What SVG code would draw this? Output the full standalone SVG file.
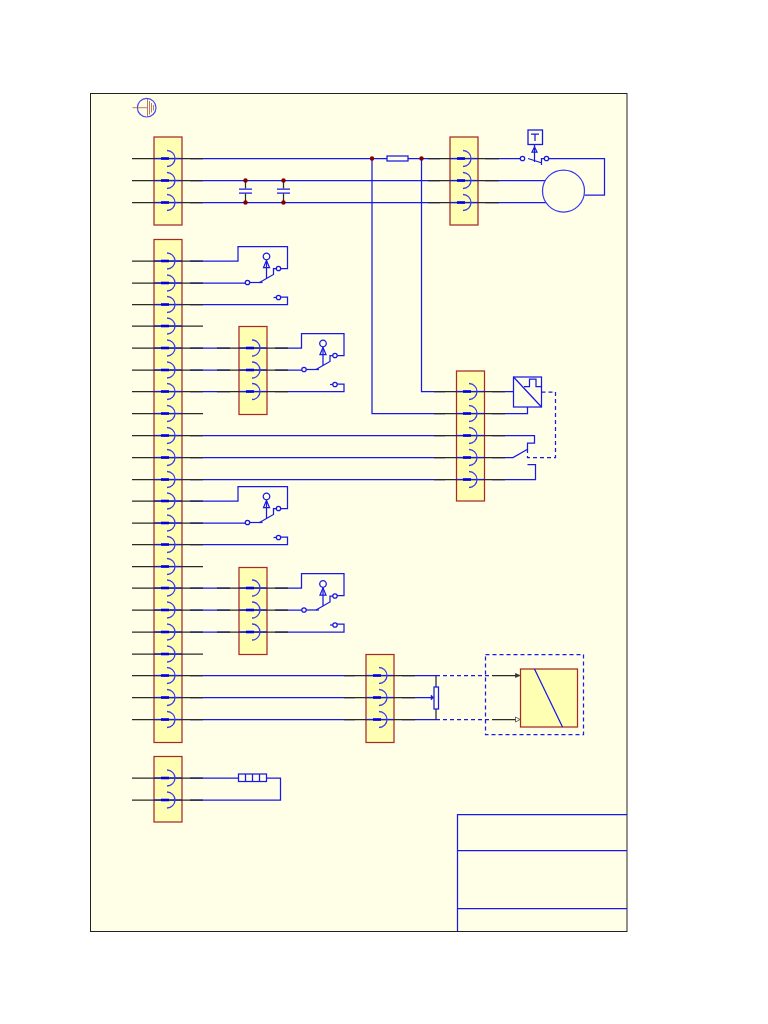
<svg xmlns="http://www.w3.org/2000/svg" width="768" height="1024" viewBox="0 0 768 1024">
<style>
.b{fill:none;stroke:#1818e8;stroke-width:1.25}
.d{fill:none;stroke:#2a2a2a;stroke-width:1.25}
.dash{fill:none;stroke:#1818e8;stroke-width:1.25;stroke-dasharray:4 3}
.blk{fill:#ffffb4;stroke:#a52a2a;stroke-width:1.25}
.dot{fill:#800000;stroke:none}
.w{fill:#ffffe8;stroke:#1818e8;stroke-width:1.25}
</style>
<defs>
<g id="t">
<path class="d" d="M-36 0H35"/>
<path class="b" d="M-14 0H14"/>
<path d="M-7 0H1" fill="none" stroke="#0000e6" stroke-width="2.6"/>
<path d="M-1 -8A8 8 0 0 1 -1 8" fill="none" stroke="#3a3af0" stroke-width="1.3"/>
</g>
<g id="sw">
<path class="b" d="M-19 26H-4"/>
<circle class="w" cx="-19" cy="26" r="2.2"/>
<path class="b" d="M-7 26L7 18V12H12M0 22V4"/>
<path class="b" d="M0 4L-3 11H3Z"/>
<circle class="w" cx="0" cy="0" r="3.3"/>
<circle class="w" cx="12" cy="12" r="2.2"/>
<path class="b" d="M7 41H12"/>
<circle class="w" cx="12" cy="41" r="2.2"/>
</g>
</defs>
<rect id="frame" x="90.5" y="93.5" width="536.5" height="838" fill="#ffffe8" stroke="#222" stroke-width="1"/>
<g id="title-block">
<path class="b" d="M457.5 931V814.5H627M457.5 850.5H627M457.5 908.5H627"/>
</g>
<g id="ground">
<circle cx="146.7" cy="107.7" r="9.3" fill="none" stroke="#4a4af0" stroke-width="1.2"/>
<path d="M132.5 107.7H147M147.5 99V116.5M149.5 101V114.5M151.5 103V112.5M153.5 105V110.5" fill="none" stroke="#a8584a" stroke-width="0.8"/>
</g>
<g id="connectors">
<path class="b" d="M190 158.5H387M408 158.5H440M190 180.5H440M190 202.5H440"/>
<path class="b" d="M372 158.5V413.5H445M421.5 158.5V391.5H445"/>
<path class="d" d="M245.5 180.5V188.5M245.5 193.5V202.5M283.5 180.5V188.5M283.5 193.5V202.5"/>
<path class="b" d="M485 158.5H520M485 180.5H546M485 202.5H547"/>
<path class="b" d="M548.5 158.5H604.5V195H584.5"/>
<path class="b" d="M190 261H238V246.5H287.5V268.5H280.5M190 283H245M190 304.5H287.5V297H280.5"/>
<path class="b" d="M190 348H230M190 370H230M190 391.5H230M275 348H301.5V333.5H344V355.5H337M275 370H302M275 391.5H344V384H337"/>
<path class="b" d="M190 501H238V486.5H287.5V508.5H280.5M190 523H245M190 544.5H287.5V537H280.5"/>
<path class="b" d="M190 588H230M190 610H230M190 632H230M275 588H301.5V573.5H344V595.5H337M275 610H302M275 632H344V624H337"/>
<path class="b" d="M190 435.5H445M190 457.5H445M190 479.5H445"/>
<path class="b" d="M492 391.5H513.5M492 413.5H527.5V407M492 435.5H534.5V443H527.5V451M492 457.5H513L528 449M492 479.5H535.5V464.5H527.5"/>
<path class="dash" d="M541.5 392H555.5V457.5H527.5V451"/>
<path class="b" d="M190 675.5H355M190 697.5H355M190 719.5H355"/>
<path class="b" d="M402 675.5H436M402 719.5H436M402 697.5H431"/>
<path class="d" d="M436 675.5V687M436 709V719.5"/>
<path class="dash" d="M436 675.5H492M436 719.5H492"/>
<path class="d" d="M492 675.5H517M492 719.5H517"/>
<path class="b" d="M190 778H238M266.5 778H280.5V800H190"/>
</g>
<g id="X1">
<rect class="blk" x="154" y="137" width="28" height="88"/>
<use href="#t" x="168" y="158.5"/><use href="#t" x="168" y="180.5"/><use href="#t" x="168" y="202.5"/>
</g>
<g id="X2">
<rect class="blk" x="154" y="239.5" width="28" height="503"/>
<use href="#t" x="168" y="261"/><use href="#t" x="168" y="283"/><use href="#t" x="168" y="304.5"/><use href="#t" x="168" y="326"/><use href="#t" x="168" y="348"/><use href="#t" x="168" y="370"/><use href="#t" x="168" y="391.5"/><use href="#t" x="168" y="413.5"/><use href="#t" x="168" y="435.5"/><use href="#t" x="168" y="457.5"/><use href="#t" x="168" y="479.5"/><use href="#t" x="168" y="501"/><use href="#t" x="168" y="523"/><use href="#t" x="168" y="544.5"/><use href="#t" x="168" y="566.5"/><use href="#t" x="168" y="588"/><use href="#t" x="168" y="610"/><use href="#t" x="168" y="632"/><use href="#t" x="168" y="654"/><use href="#t" x="168" y="675.5"/><use href="#t" x="168" y="697.5"/><use href="#t" x="168" y="719.5"/>
</g>
<g id="X3">
<rect class="blk" x="154" y="756.5" width="28" height="65.5"/>
<use href="#t" x="168" y="778"/><use href="#t" x="168" y="800"/>
</g>
<g id="X4">
<rect class="blk" x="239" y="326.5" width="28" height="88"/>
<use href="#t" x="253" y="348"/><use href="#t" x="253" y="370"/><use href="#t" x="253" y="391.5"/>
</g>
<g id="X5">
<rect class="blk" x="239" y="567.5" width="28" height="87"/>
<use href="#t" x="253" y="588"/><use href="#t" x="253" y="610"/><use href="#t" x="253" y="632"/>
</g>
<g id="X6">
<rect class="blk" x="450" y="137" width="28" height="88"/>
<use href="#t" x="464" y="158.5"/><use href="#t" x="464" y="180.5"/><use href="#t" x="464" y="202.5"/>
</g>
<g id="X7">
<rect class="blk" x="456.5" y="371" width="28" height="130"/>
<use href="#t" x="470" y="391.5"/><use href="#t" x="470" y="413.5"/><use href="#t" x="470" y="435.5"/><use href="#t" x="470" y="457.5"/><use href="#t" x="470" y="479.5"/>
</g>
<g id="X8">
<rect class="blk" x="366" y="654.5" width="28" height="88"/>
<use href="#t" x="380" y="675.5"/><use href="#t" x="380" y="697.5"/><use href="#t" x="380" y="719.5"/>
</g>
<g id="fuse"><rect class="w" x="387" y="156" width="21" height="5"/></g>
<g id="junctions">
<circle class="dot" cx="372" cy="158.5" r="2.2"/><circle class="dot" cx="421.5" cy="158.5" r="2.2"/>
<circle class="dot" cx="245.5" cy="180.5" r="2.2"/><circle class="dot" cx="245.5" cy="202.5" r="2.2"/>
<circle class="dot" cx="283.5" cy="180.5" r="2.2"/><circle class="dot" cx="283.5" cy="202.5" r="2.2"/>
</g>
<g id="C1"><path class="b" d="M239 189H252M239 193H252"/></g>
<g id="C2"><path class="b" d="M277 189H290M277 193H290"/></g>
<g id="S1"><use href="#sw" x="266.5" y="256.5"/></g>
<g id="S2"><use href="#sw" x="323" y="343.5"/></g>
<g id="S3"><use href="#sw" x="266.5" y="496.5"/></g>
<g id="S4"><use href="#sw" x="323" y="584"/></g>
<g id="timer-contact">
<rect x="528" y="130" width="14.5" height="14.5" fill="#ffffe8" stroke="#1818e8" stroke-width="1.3"/>
<path class="b" d="M531 134H539M535 134V141"/>
<path class="b" d="M534.5 145V162"/>
<path class="b" d="M534.5 147L532 152H537Z"/>
<circle class="w" cx="522.5" cy="158.5" r="2.2"/>
<circle class="w" cx="546.5" cy="158.5" r="2.2"/>
<path class="b" d="M528 158.5L542 163M541.5 165V158.5H544"/>
</g>
<g id="motor"><circle cx="563.5" cy="191" r="21" fill="#ffffe8" stroke="#3a3af0" stroke-width="1.25"/></g>
<g id="relay">
<rect class="w" x="513.5" y="377" width="28" height="30" stroke-width="1.4"/>
<path class="b" d="M513.5 377L541.5 407M524 386.5H529.5V379H536V386.5H541"/>
</g>
<g id="pot">
<rect class="w" x="434" y="687" width="4.5" height="22"/>
<path d="M431 695V700L434 697.5Z" fill="#1818e8" stroke="#1818e8" stroke-width="0.5"/>
</g>
<g id="coil">
<rect class="w" x="238.5" y="774" width="28" height="7.5"/>
<path class="b" d="M245.5 774V781.5M252.5 774V781.5M259.5 774V781.5"/>
</g>
<g id="transducer">
<rect x="485.5" y="654.5" width="98" height="80" class="dash"/>
<rect class="blk" x="520.5" y="669" width="57" height="58"/>
<path class="b" d="M534.5 669L562.5 727"/>
<path d="M520 675.5L515.5 673.5V677.5Z" fill="#333" stroke="#333" stroke-width="0.7"/>
<path d="M520 719.5L515.5 717V722Z" fill="#ffffe8" stroke="#333" stroke-width="0.7"/>
</g>
</svg>
